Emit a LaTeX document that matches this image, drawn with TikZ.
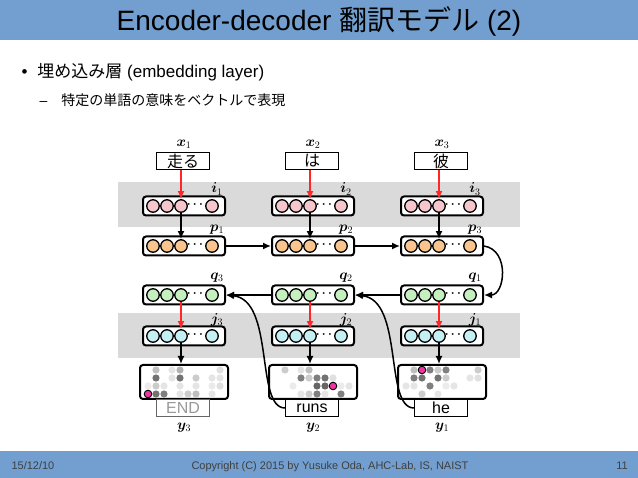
\documentclass[tikz,border=0pt]{standalone}
\usepackage{amsmath,bm}
\usepackage{fontspec}
\setmainfont{Liberation Sans}
\newfontfamily\cjk{Noto Sans CJK JP}
\usetikzlibrary{arrows.meta}
\definecolor{hdr}{HTML}{729FCF}
\definecolor{pinkc}{HTML}{F7C6CC}
\definecolor{orac}{HTML}{F9C48E}
\definecolor{grnc}{HTML}{C6EFC0}
\definecolor{cyac}{HTML}{C4F0F3}
\definecolor{band}{HTML}{DADADA}
\tikzset{
 vbox/.style={draw,line width=2pt,rounded corners=3pt,minimum width=82pt,minimum height=19pt,inner sep=0pt,fill=white},
 cir/.style={draw,line width=1.3pt,circle,minimum size=12.5pt,inner sep=0pt},
 wbox/.style={draw,line width=1pt,minimum width=53pt,minimum height=17pt,inner sep=0pt,font=\fontsize{16}{18}\selectfont},
 ar/.style={-{Latex[length=8pt,width=7pt]},line width=1.5pt},
 rar/.style={ar,red!85!white},
 lab/.style={font=\fontsize{14}{16}\selectfont},
 foot/.style={font=\fontsize{11}{13}\selectfont,text=black!75,anchor=base},
}
\newcommand\vbx[4]{%
 \node[vbox] (#1) at (#2,#3) {};
 \node[cir,fill=#4] (#1a) at (#2-31,#3) {};
 \node[cir,fill=#4] (#1b) at (#2-17,#3) {};
 \node[cir,fill=#4] (#1c) at (#2-3,#3) {};
 \node[font=\fontsize{13}{13}\selectfont,inner sep=0pt] (#1d) at (#2+12,#3-1.5) {$\bm{\cdots}$};
 \node[cir,fill=#4] (#1e) at (#2+28,#3) {};
}
\newcommand\outbox[4]{%
 \node[draw,line width=2pt,rounded corners=3pt,minimum width=88pt,minimum height=34pt,inner sep=0pt] (#1) at (#2,#3) {};
 \foreach \c/\r/\s in {#4}{
  \fill[black!\s] (#2-36+\c*8,#3-12+\r*8) circle (3.6pt);
 }
}
\begin{document}
\begin{tikzpicture}[x=1pt,y=-1pt]
\useasboundingbox (0,0) rectangle (638,478);
\fill[white] (0,0) rectangle (638,478);
\fill[hdr] (0,0) rectangle (638,40);
\node[font=\fontsize{28}{32}\selectfont] (title) at (319,21) {Encoder-decoder {\cjk 翻訳モデル} (2)};
\fill[hdr] (0,451) rectangle (638,478);
\node[foot,anchor=base west] (f1) at (8,470) {15/12/10};
\node[foot] (f2) at (330,470) {Copyright (C) 2015 by Yusuke Oda, AHC-Lab, IS, NAIST};
\node[foot] (f3) at (622,470) {11};
\node[anchor=west,font=\fontsize{17}{20}\selectfont] (b1) at (18,72) {•\hspace{10pt}{\cjk 埋め込み層} (embedding layer)};
\node[anchor=west,font=\fontsize{14}{16}\selectfont] (b2) at (36,100) {–\hspace{14pt}{\cjk 特定の単語の意味をベクトルで表現}};
\fill[band] (118,182) rectangle (520,227);
\fill[band] (118,313) rectangle (520,358);
\foreach \n/\x/\w in {1/184/走る,2/313/は,3/442/彼}{
 \node[lab] (xl\n) at (\x,144) {$\bm{x}_\n$};
 \node[wbox] (x\n) at (\x-1,161) {\cjk \w};
}
\vbx{i1}{184}{206}{pinkc}\vbx{i2}{313}{206}{pinkc}\vbx{i3}{442}{206}{pinkc}
\vbx{p1}{184}{246}{orac}\vbx{p2}{313}{246}{orac}\vbx{p3}{442}{246}{orac}
\vbx{q3}{184}{295}{grnc}\vbx{q2}{313}{295}{grnc}\vbx{q1}{442}{295}{grnc}
\vbx{j3}{184}{336}{cyac}\vbx{j2}{313}{336}{cyac}\vbx{j1}{442}{336}{cyac}
\foreach \n/\x in {1/184,2/313,3/442}{
 \node[lab] (il\n) at (\x+33,189) {$\bm{i}_\n$};
 \node[lab] (pl\n) at (\x+33,230) {$\bm{p}_\n$};
}
\foreach \n/\x in {3/184,2/313,1/442}{
 \node[lab] (ql\n) at (\x+33,278) {$\bm{q}_\n$};
 \node[lab] (jl\n) at (\x+33,320) {$\bm{j}_\n$};
 \node[lab] (yl\n) at (\x,428) {$\bm{y}_\n$};
}
\outbox{o3}{184}{382}{1/0/25,3/0/10,4/0/30,9/0/12,1/1/55,3/1/10,4/1/55,6/1/20,8/1/10,9/1/10,0/2/8,1/2/20,2/2/10,4/2/10,6/2/10,8/2/8,9/2/12,1/3/55,2/3/50,4/3/10,5/3/20,6/3/25,8/3/10}
\outbox{o2}{313}{382}{1/0/20,3/0/10,4/0/25,3/1/50,4/1/20,5/1/50,6/1/55,7/1/12,2/2/8,5/2/60,6/2/60,8/2/8,9/2/10,3/3/10,4/3/20,5/3/50,6/3/10,8/3/50}
\outbox{o1}{442}{382}{1/0/25,3/0/50,4/0/20,5/0/50,9/0/20,1/1/50,2/1/55,4/1/55,5/1/20,8/1/10,9/1/12,0/2/10,1/2/10,3/2/50,5/2/8,6/2/10,2/3/20,4/3/10}
\fill[magenta!80!white,draw=black,line width=0.9pt] (184-36+0*8,382-12+3*8) circle (3.8pt);
\fill[magenta!80!white,draw=black,line width=0.9pt] (313-36+7*8,382-12+2*8) circle (3.8pt);
\fill[magenta!80!white,draw=black,line width=0.9pt] (442-36+2*8,382-12+0*8) circle (3.8pt);
\node[wbox,draw=black!60,text=black!40] (w3) at (183,408) {END};
\node[wbox] (w2) at (312,408) {runs};
\node[wbox] (w1) at (441,408) {he};
\foreach \n in {1,2,3}{
 \draw[rar] (x\n.south -| i\n c.north) -- (i\n c.north);
 \draw[ar] (i\n c.south) -- (p\n c.north);
 \draw[rar] (q\n c.south) -- (j\n c.north);
 \draw[ar] (j\n c.south) -- (o\n.north -| j\n c);
}
\draw[ar] (p1.east) -- (p2.west);
\draw[ar] (p2.east) -- (p3.west);
\draw[ar] (p3.east) .. controls (510,250) and (505,295) .. (q1.east);
\draw[ar] (q1.west) -- (q2.east);
\draw[ar] (q2.west) -- (q3.east);
\draw[ar] (w2.west) .. controls (255,408) and (275,300) .. (q3.east);
\draw[ar] (w1.west) .. controls (384,408) and (404,300) .. (q2.east);
\end{tikzpicture}
\end{document}
